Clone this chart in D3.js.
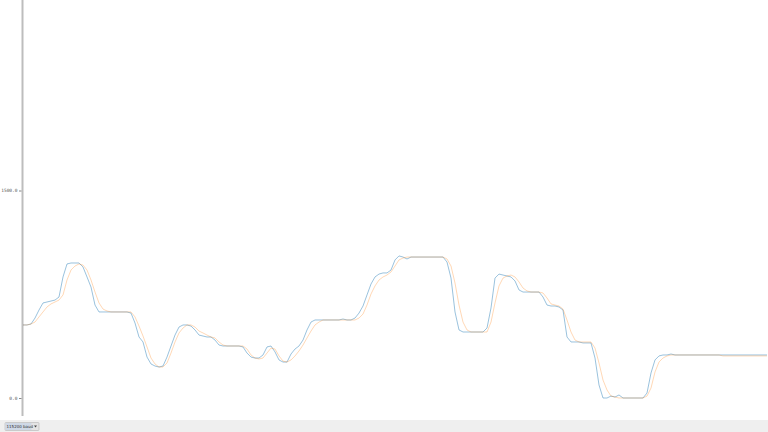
<!DOCTYPE html>
<html>
<head>
<meta charset="utf-8">
<script src="https://cdn.jsdelivr.net/npm/d3@7"></script>
<style>
  html, body { margin: 0; padding: 0; background: #fff; overflow: hidden; }
  svg { display: block; }
  .axis text { font-family: "DejaVu Sans Mono", monospace; font-size: 4.5px; fill: #555; }
  .axis line { stroke: #888; }
  .axis .domain { display: none; }
</style>
</head>
<body>
<div id="chart"></div>
<script>
// two serial channels, sampled left to right
const rawValues = [
  528, 528, 535, 578, 636, 687, 694, 701, 708, 730,
  875, 969, 976, 976, 976, 947, 875, 802, 672, 622,
  622, 622, 622, 622, 622, 622, 622, 614, 542, 441,
  405, 296, 246, 231, 224, 231, 296, 376, 455, 513,
  528, 528, 520, 492, 455, 448, 441, 441, 419, 383,
  376, 376, 376, 376, 376, 369, 325, 296, 289, 289,
  311, 369, 376, 333, 275, 260, 260, 318, 354, 376,
  419, 492, 549, 564, 564, 564, 564, 564, 564, 564,
  571, 564, 564, 578, 614, 665, 745, 824, 875, 896,
  904, 904, 925, 998, 1027, 1019, 1005, 1019, 1019, 1019,
  1019, 1019, 1019, 1019, 1019, 1019, 983, 867, 622, 492,
  477, 477, 477, 477, 477, 477, 506, 651, 867, 896,
  889, 882, 875, 846, 781, 766, 766, 766, 766, 766,
  730, 672, 665, 665, 658, 636, 441, 405, 405, 405,
  398, 398, 398, 289, 94, 0, 0, 14, 7, 22,
  0, 0, 0, 0, 0, 0, 36, 181, 275, 304,
  311, 311, 318, 311, 311, 311, 311, 311, 311, 311,
  311, 311, 311, 311, 311, 311, 311, 311, 311, 311,
  311, 311, 311, 311, 311, 311, 311
];

const smoothValues = [
  528, 528, 535, 549, 586, 622, 658, 680, 694, 708,
  745, 853, 925, 954, 969, 961, 925, 853, 766, 687,
  643, 629, 622, 622, 622, 622, 622, 622, 586, 520,
  448, 369, 289, 246, 224, 224, 253, 325, 405, 470,
  506, 528, 528, 513, 484, 470, 455, 441, 434, 405,
  383, 376, 376, 376, 376, 376, 354, 311, 289, 282,
  289, 325, 361, 354, 304, 267, 260, 275, 304, 340,
  383, 434, 484, 528, 549, 564, 564, 564, 564, 564,
  564, 564, 564, 564, 578, 607, 672, 752, 810, 853,
  875, 889, 911, 954, 998, 1012, 1019, 1019, 1019, 1019,
  1019, 1019, 1019, 1019, 1019, 1019, 1005, 954, 831, 672,
  549, 492, 477, 477, 477, 477, 477, 549, 687, 810,
  867, 882, 889, 875, 839, 795, 774, 766, 766, 766,
  759, 723, 680, 672, 665, 643, 564, 477, 419, 405,
  405, 405, 405, 361, 253, 130, 58, 14, 7, 0,
  0, 0, 0, 0, 0, 0, 14, 72, 188, 260,
  289, 304, 311, 311, 311, 311, 311, 311, 311, 311,
  311, 311, 311, 311, 311, 304, 304, 304, 304, 304,
  304, 304, 304, 304, 304, 304, 304
];

const yTicks = [0, 1500];
const baudLabel = '115200 baud';

const width = 768, height = 432;
const plotBottom = 416;

const svg = d3.select('#chart')
  .append('svg')
    .attr('width', width)
    .attr('height', height);

let x = d3.scaleLinear().domain([0, rawValues.length - 1]).range([23, 767]);
let y = d3.scaleLinear().domain([0, 1500]).range([398, 190.5]);

// vertical axis rule, runs the full plot height
svg.append('line')
  .attr('x1', 22.5).attr('x2', 22.5)
  .attr('y1', 0).attr('y2', plotBottom)
  .attr('stroke', '#bdbdbd')
  .attr('stroke-width', 2);

svg.append('g')
  .attr('class', 'y axis')
  .attr('transform', 'translate(21.5,0)')
  .call(d3.axisLeft(y).tickValues(yTicks).tickFormat(d3.format('.1f')).tickSize(2.5).tickPadding(1.5));

let line = d3.line()
  .x((d, i) => x(i))
  .y(d => y(d));

svg.append('path')
  .datum(rawValues)
  .attr('fill', 'none')
  .attr('stroke', '#1f77b4')
  .attr('stroke-opacity', 0.45)
  .attr('stroke-width', 1)
  .attr('d', line);

svg.append('path')
  .datum(smoothValues)
  .attr('fill', 'none')
  .attr('stroke', '#ff7f0e')
  .attr('stroke-opacity', 0.3)
  .attr('stroke-width', 1)
  .attr('d', line);

// bottom toolbar with baud selector
let bar = svg.append('g').attr('transform', `translate(0,${420})`);
bar.append('rect')
  .attr('width', width).attr('height', 12)
  .attr('fill', '#efefef');

bar.append('rect')
  .attr('x', 5).attr('y', 2.5)
  .attr('width', 34).attr('height', 8)
  .attr('fill', '#e4e4e4')
  .attr('stroke', '#aaa')
  .attr('stroke-width', 0.5)
  .attr('rx', 1);

bar.append('rect')
  .attr('x', 5.5).attr('y', 3)
  .attr('width', 26).attr('height', 7)
  .attr('fill', '#cfd8e6');

bar.append('text')
  .attr('x', 6.5).attr('y', 8.3)
  .style('font-family', 'DejaVu Sans, sans-serif')
  .style('font-size', '4px')
  .style('fill', '#333')
  .text(baudLabel);

bar.append('path')
  .attr('d', 'M34,5.5 L37,5.5 L35.5,7.5 Z')
  .attr('fill', '#444');
</script>
</body>
</html>
